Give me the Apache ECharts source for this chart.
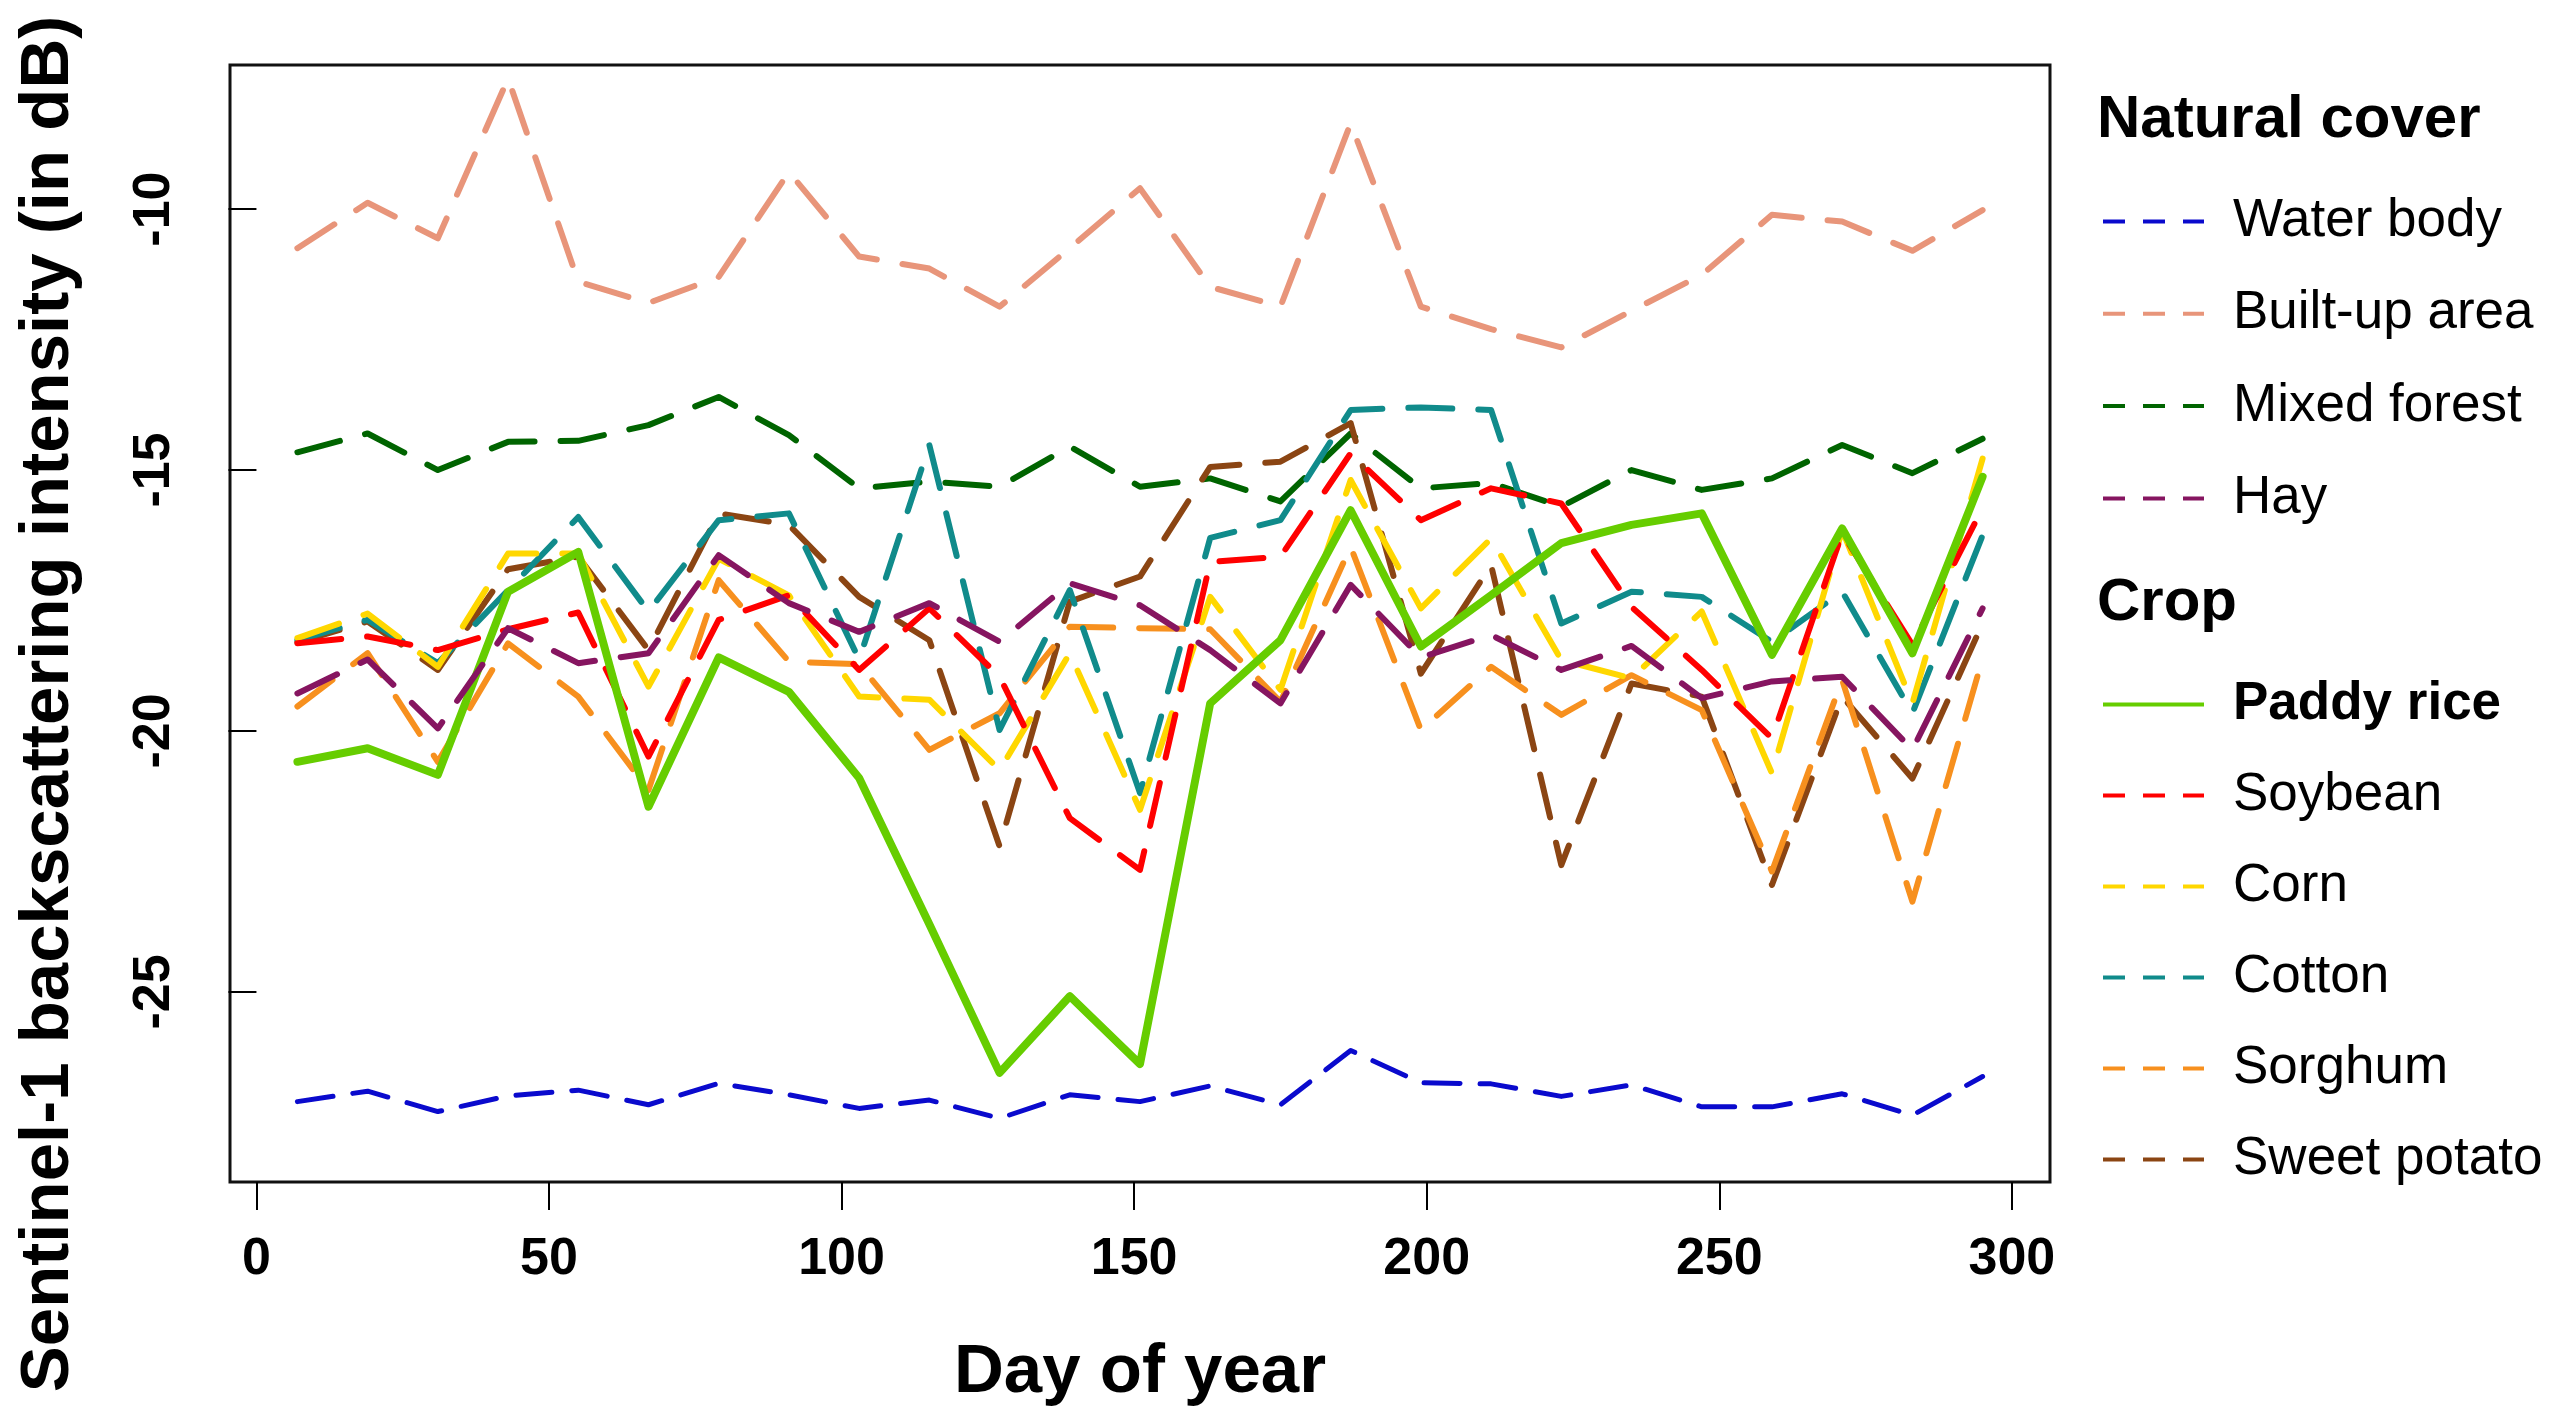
<!DOCTYPE html>
<html><head><meta charset="utf-8">
<script src="https://cdn.jsdelivr.net/npm/echarts@6/dist/echarts.min.js"></script>
<style>html,body{margin:0;padding:0;background:#fff}#c{width:2569px;height:1421px}</style>
</head><body><div id="c"></div>
<script>
const days = [7,19,31,43,55,67,79,91,103,115,127,139,151,163,175,187,199,211,223,235,247,259,271,283,295];
const waterBody   = [-27.10,-26.90,-27.29,-26.99,-26.88,-27.16,-26.75,-26.97,-27.23,-27.07,-27.42,-26.97,-27.10,-26.80,-27.16,-26.12,-26.74,-26.76,-27.00,-26.78,-27.20,-27.20,-26.95,-27.36,-26.62];
const builtUp     = [-10.75,-9.88,-10.56,-7.50,-11.39,-11.80,-11.30,-9.29,-10.91,-11.14,-11.87,-10.75,-9.60,-11.49,-11.87,-8.36,-11.87,-12.30,-12.65,-11.95,-11.26,-10.11,-10.24,-10.80,-10.02];
const mixedForest = [-14.66,-14.30,-15.00,-14.46,-14.44,-14.14,-13.60,-14.33,-15.35,-15.22,-15.32,-14.55,-15.32,-15.16,-15.60,-14.30,-15.35,-15.25,-15.70,-15.00,-15.38,-15.16,-14.52,-15.06,-14.40];
const hay         = [-19.28,-18.63,-19.95,-18.03,-18.70,-18.51,-16.63,-17.55,-18.10,-17.55,-18.29,-17.17,-17.59,-18.45,-19.47,-17.20,-18.59,-18.16,-18.83,-18.37,-19.37,-19.05,-18.96,-20.36,-17.65];
const paddyRice   = [-20.59,-20.33,-20.84,-17.33,-16.57,-21.45,-18.59,-19.25,-20.90,-23.70,-26.55,-25.08,-26.38,-19.47,-18.26,-15.77,-18.38,-17.40,-16.40,-16.05,-15.83,-18.54,-16.12,-18.51,-15.13];
const soybean     = [-18.32,-18.19,-18.45,-18.05,-17.73,-20.49,-17.87,-17.40,-18.83,-17.65,-18.96,-21.67,-22.66,-16.76,-16.66,-14.68,-15.96,-15.35,-15.64,-17.62,-18.83,-20.14,-16.21,-18.35,-15.73];
const corn        = [-18.22,-17.75,-18.77,-16.60,-16.60,-19.15,-16.70,-17.40,-19.34,-19.40,-20.75,-18.51,-21.51,-17.43,-19.21,-15.19,-17.65,-16.31,-18.64,-18.99,-17.71,-20.81,-16.15,-19.47,-14.78];
const cotton      = [-18.26,-17.87,-18.70,-17.30,-15.90,-17.71,-15.96,-15.83,-18.63,-14.52,-19.98,-17.30,-21.19,-16.30,-15.96,-13.85,-13.80,-13.85,-17.94,-17.33,-17.43,-18.29,-17.33,-19.66,-16.25];
const sorghum     = [-19.53,-18.51,-20.59,-18.32,-19.34,-21.13,-17.11,-18.67,-18.72,-20.36,-19.66,-18.00,-18.03,-18.05,-19.44,-16.47,-19.98,-18.77,-19.69,-18.93,-19.60,-22.69,-19.02,-23.27,-18.61];
const sweetPotato = [-18.30,-17.90,-18.83,-16.90,-16.66,-18.45,-15.83,-16.05,-17.43,-18.26,-22.21,-17.52,-17.04,-14.94,-14.84,-14.10,-18.90,-16.82,-22.57,-19.09,-19.34,-22.95,-19.34,-20.91,-17.94];

const xTicks = [0,50,100,150,200,250,300];
const yTicks = [-25,-20,-15,-10];
const naturalNames = ['Water body','Built-up area','Mixed forest','Hay'];
const cropNames = ['Paddy rice','Soybean','Corn','Cotton','Sorghum','Sweet potato'];

const FONT = 'Liberation Sans, Arial, sans-serif';
const dashStyle = {width:6, type:[44,26], cap:'round', join:'round'};

function mk(name, arr, color, ls) {
  return {
    name, type:'line', symbol:'none', showSymbol:false, silent:true, animation:false,
    data: days.map((d,i)=>[d, arr[i]]),
    color: color,
    lineStyle: Object.assign({color: color}, ls)
  };
}

const series = [
  mk('Water body', waterBody, '#0a0acd', {width:5, type:[36,20], cap:'round', join:'round'}),
  mk('Built-up area', builtUp, '#e8957a', dashStyle),
  mk('Mixed forest', mixedForest, '#006400', dashStyle),
  mk('Sweet potato', sweetPotato, '#8b4513', dashStyle),
  mk('Sorghum', sorghum, '#f7901e', dashStyle),
  mk('Cotton', cotton, '#108b8b', dashStyle),
  mk('Corn', corn, '#ffd700', dashStyle),
  mk('Soybean', soybean, '#ff0000', dashStyle),
  mk('Paddy rice', paddyRice, '#66cd00', {width:8, type:'solid', cap:'round', join:'round'}),
  mk('Hay', hay, '#861560', dashStyle)
];

const dashIcon = 'path://M0,0h22v4h-22zM40,0h22v4h-22zM80,0h21v4h-21zM125,0L125,4';
const solidIcon = 'path://M0,0h101v4h-101zM125,0L125,4';

const legendBase = {
  orient:'vertical', padding:0, itemWidth:125, itemHeight:4, selectedMode:false,
  icon: dashIcon,
  itemStyle:{borderWidth:0},
  textStyle:{fontSize:53, lineHeight:53, color:'#000', fontFamily:FONT}
};

const chart = echarts.init(document.getElementById('c'), null, {renderer:'canvas'});
chart.setOption({
  backgroundColor:'#fff',
  animation:false,
  title:[
    {text:'Natural cover', left:2097, top:90, padding:0, textStyle:{fontSize:60, lineHeight:60, fontWeight:'bold', color:'#000', fontFamily:FONT}},
    {text:'Crop', left:2097, top:573, padding:0, textStyle:{fontSize:60, lineHeight:60, fontWeight:'bold', color:'#000', fontFamily:FONT}}
  ],
  legend:[
    Object.assign({}, legendBase, {left:2103, top:195, itemGap:39.3, data: naturalNames}),
    Object.assign({}, legendBase, {left:2103, top:678, itemGap:38,
      data: cropNames.map(n => n === 'Paddy rice'
        ? {name:n, icon:solidIcon, textStyle:{fontWeight:'bold'}}
        : {name:n})})
  ],
  grid:{left:230, top:65, width:1820, height:1117, show:true, borderColor:'#111', borderWidth:3, backgroundColor:'transparent'},
  xAxis:{
    type:'value', min:-4.52, max:306.52,
    name:'Day of year', nameLocation:'middle', nameGap:156,
    nameTextStyle:{fontSize:69, fontWeight:'bold', color:'#000', fontFamily:FONT, lineHeight:69},
    axisLine:{show:false},
    splitLine:{show:false},
    axisTick:{show:true, length:28, inside:false, customValues:xTicks, lineStyle:{color:'#000', width:2}},
    axisLabel:{show:true, customValues:xTicks, margin:52, fontSize:52, lineHeight:52, fontWeight:'bold', color:'#000', fontFamily:FONT}
  },
  yAxis:{
    type:'value', min:-28.64, max:-7.24,
    axisLine:{show:false},
    splitLine:{show:false},
    axisTick:{show:true, length:28, inside:false, customValues:yTicks, lineStyle:{color:'#000', width:2}},
    axisLabel:{show:true, customValues:yTicks, rotate:90, margin:49, fontSize:52, lineHeight:52, fontWeight:'bold', color:'#000', fontFamily:FONT}
  },
  graphic:[
    {type:'text', x:49, y:704, rotation:Math.PI/2, silent:true,
     style:{text:'Sentinel-1 backscattering intensity (in dB)', fontSize:69, fontWeight:'bold', fontFamily:FONT, fill:'#000', align:'center', verticalAlign:'middle'}}
  ],
  series: series
});
</script>
</body></html>
